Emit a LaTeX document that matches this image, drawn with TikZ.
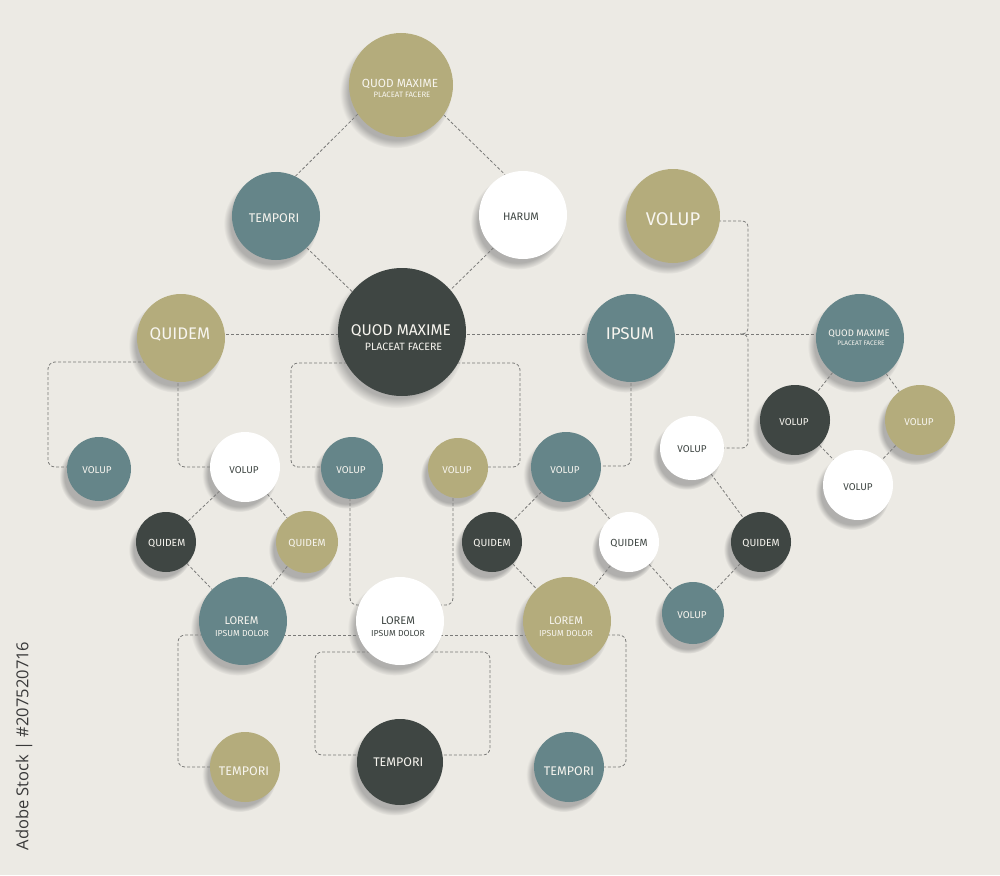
\documentclass[tikz,border=0pt]{standalone}
\usepackage{fontspec}
\setmainfont{Fira Sans}
\newfontfamily\sidefont{Open Sans}
\usetikzlibrary{shadows,backgrounds}
\definecolor{bgc}{HTML}{ECEAE4}
\definecolor{olivec}{HTML}{B4AC7C}
\definecolor{tealc}{HTML}{658589}
\definecolor{darkc}{HTML}{3F4643}
\definecolor{lightc}{HTML}{F7F5EF}
\definecolor{linec}{HTML}{7A7A78}
\definecolor{sidec}{HTML}{3A3A3A}
\begin{document}
\begin{tikzpicture}[x=1pt,y=-1pt,
  bub/.style={circle, inner sep=0pt, minimum size=#1,
    circular drop shadow={shadow xshift=-5pt, shadow yshift=-7pt, shadow scale=1.07, opacity=0.55}},
  olv/.style={fill=olivec},
  tel/.style={fill=tealc},
  drk/.style={fill=darkc},
  wht/.style={fill=white},
  tx/.style={inner sep=0pt, text height=#1*0.69pt, text depth=0pt, font=\fontsize{#1}{#1}\selectfont},
  lt/.style={tx=#1, text=lightc},
  dt/.style={tx=#1, text=darkc},
  conn/.style={draw=linec, line width=0.8pt, dash pattern=on 3pt off 2pt},
  rc/.style={rounded corners=7pt},
]
\useasboundingbox (0,0) rectangle (1000,875);

% ---- circles ----
\node[bub=104, olv] (tQM) at (401,85) {};
\node[bub=88, tel] (tTemp) at (276,216) {};
\node[bub=88, wht] (harum) at (523,215) {};
\node[bub=128, drk] (cQM) at (402,332) {};
\node[bub=88, olv] (quidemL) at (181,338) {};
\node[bub=94, olv] (volupTR) at (673,216) {};
\node[bub=88, tel] (ipsum) at (631,338) {};
\node[bub=88, tel] (rQM) at (860,338) {};
\node[bub=70, drk] (rV1) at (795,420) {};
\node[bub=70, olv] (rV2) at (920,420) {};
\node[bub=70, wht] (rV3) at (858,485) {};
\node[bub=64, wht] (vW2) at (692,448) {};
\node[bub=64, tel] (v1) at (99,469) {};
\node[bub=70, wht] (v2) at (245,467) {};
\node[bub=62, tel] (v3) at (352,468) {};
\node[bub=60, olv] (v4) at (458,468) {};
\node[bub=70, tel] (v5) at (566,467) {};
\node[bub=60, drk] (q1) at (166,542) {};
\node[bub=62, olv] (q2) at (307,542) {};
\node[bub=60, drk] (q3) at (492,542) {};
\node[bub=60, wht] (q4) at (629,542) {};
\node[bub=60, drk] (q5) at (761,542) {};
\node[bub=62, tel] (v6) at (693,613) {};
\node[bub=88, tel] (L1) at (243,621) {};
\node[bub=88, wht] (L2) at (400,621) {};
\node[bub=88, olv] (L3) at (567,621) {};
\node[bub=70, olv] (T1) at (245,767) {};
\node[bub=86, drk] (T2) at (400,762) {};
\node[bub=70, tel] (T3) at (569,767) {};

% ---- texts ----
\node[lt=11.8] (tQMa) at (400,83) {QUOD MAXIME};
\node[lt=7.8] (tQMb) at (402,95) {PLACEAT FACERE};
\node[lt=12.6] (tTempa) at (274,218) {TEMPORI};
\node[dt=10.9] (haruma) at (521,217) {HARUM};
\node[lt=15.5] (cQMa) at (401,330.5) {QUOD MAXIME};
\node[lt=10.6] (cQMb) at (403.5,346.5) {PLACEAT FACERE};
\node[lt=16.8] (quidemLa) at (180,334) {QUIDEM};
\node[lt=18.4] (volupTRa) at (673,219) {VOLUP};
\node[lt=17] (ipsuma) at (630,334) {IPSUM};
\node[lt=9.5] (rQMa) at (859,333.3) {QUOD MAXIME};
\node[lt=6.5] (rQMb) at (861,343.2) {PLACEAT FACERE};
\node[lt=9.9] (rV1a) at (794,422.5) {VOLUP};
\node[lt=9.9] (rV2a) at (919,422.5) {VOLUP};
\node[dt=9.9] (rV3a) at (858,487.5) {VOLUP};
\node[dt=9.9] (vW2a) at (692,449) {VOLUP};
\node[lt=9.9] (v1a) at (97,469.7) {VOLUP};
\node[dt=9.9] (v2a) at (244,469.7) {VOLUP};
\node[lt=9.9] (v3a) at (351,469.7) {VOLUP};
\node[lt=9.9] (v4a) at (457,469.7) {VOLUP};
\node[lt=9.9] (v5a) at (565,469.7) {VOLUP};
\node[lt=10.3] (q1a) at (166.7,543) {QUIDEM};
\node[lt=10.3] (q2a) at (307,543) {QUIDEM};
\node[lt=10.3] (q3a) at (492,543) {QUIDEM};
\node[dt=10.3] (q4a) at (629,543) {QUIDEM};
\node[lt=10.3] (q5a) at (761,543) {QUIDEM};
\node[lt=9.9] (v6a) at (692,615) {VOLUP};
\node[lt=11.1] (L1a) at (241.5,620.5) {LOREM};
\node[lt=8.7] (L1b) at (242,633.7) {IPSUM DOLOR};
\node[dt=11.1] (L2a) at (398,620.5) {LOREM};
\node[dt=8.7] (L2b) at (398,633.7) {IPSUM DOLOR};
\node[lt=11.1] (L3a) at (566,620.5) {LOREM};
\node[lt=8.7] (L3b) at (566,633.7) {IPSUM DOLOR};
\node[lt=12.5] (T1a) at (244,771.3) {TEMPORI};
\node[lt=12.5] (T2a) at (398.3,762) {TEMPORI};
\node[lt=12.5] (T3a) at (569,771.3) {TEMPORI};

\node[rotate=90, text=sidec, font=\sidefont\fontsize{16.5}{18}\selectfont] (side) at (24,746) {Adobe Stock | \#207520716};

% ---- connectors ----
\begin{scope}[on background layer]
\fill[bgc] (0,0) rectangle (1000,875);
\coordinate (yMain) at (0,334);
\coordinate (brR) at (748,221);
\coordinate (brTip) at (740,334);
\coordinate (brB) at (748,448);
\coordinate (lA) at (48,362);
\coordinate (lB) at (48,467);
\coordinate (lC) at (178,467);
\coordinate (mA) at (291,363);
\coordinate (mB) at (291,467);
\coordinate (mC) at (520,363);
\coordinate (mD) at (520,467);
\coordinate (vA) at (350,605);
\coordinate (vB) at (453,605);
\coordinate (iA) at (631,466);
\coordinate (bA) at (178,635);
\coordinate (bB) at (178,767);
\coordinate (bC) at (626,635);
\coordinate (bD) at (626,767);
\coordinate (cA) at (315,652);
\coordinate (cB) at (315,755);
\coordinate (cC) at (490,652);
\coordinate (cD) at (490,755);

\draw[conn] (tQM.214) -- (tTemp.64);
\draw[conn] (tQM.325) -- (harum.114);
\draw[conn] (tTemp.314) -- (cQM.141);
\draw[conn] (harum.228) -- (cQM.41);

\draw[conn] (quidemL |- yMain) -- (cQM |- yMain);
\draw[conn] (cQM |- yMain) -- (ipsum |- yMain);
\draw[conn] (ipsum |- yMain) -- (rQM |- yMain);
\draw[conn, rounded corners=6pt] (volupTR |- brR) -- (brR) -- (brR |- brTip) -- (brTip);
\draw[conn, rounded corners=6pt] (brTip) -- (brR |- brTip) -- (brB) -- (vW2);

\draw[conn, rc] (quidemL |- lA) -- (lA) -- (lB) -- (v1 |- lB);
\draw[conn, rc] (lC |- quidemL) -- (lC) -- (v2 |- lC);
\draw[conn, rc] (cQM |- mA) -- (mA) -- (mB) -- (v3 |- mB);
\draw[conn, rc] (cQM |- mC) -- (mC) -- (mD) -- (v4 |- mD);
\draw[conn, rc] (vA |- v3) -- (vA) -- (L2 |- vA);
\draw[conn, rc] (vB |- v4) -- (vB) -- (L2 |- vB);
\draw[conn, rc] (iA |- ipsum) -- (iA) -- (v5 |- iA);

\draw[conn, rc] (L1 |- bA) -- (bA) -- (bB) -- (T1 |- bB);
\draw[conn] (L1 |- bA) -- (L2 |- bA);
\draw[conn] (L2 |- bA) -- (L3 |- bA);
\draw[conn, rc] (L3 |- bC) -- (bC) -- (bD) -- (T3 |- bD);
\draw[conn, rc] (L2 |- cA) -- (cA) -- (cB) -- (T2 |- cB);
\draw[conn, rc] (L2 |- cC) -- (cC) -- (cD) -- (T2 |- cD);

\draw[conn] (v2) -- (q1);
\draw[conn] (v2) -- (q2);
\draw[conn] (q1) -- (L1);
\draw[conn] (q2) -- (L1);
\draw[conn] (v5) -- (q3);
\draw[conn] (v5) -- (q4);
\draw[conn] (q3) -- (L3);
\draw[conn] (q4) -- (L3);
\draw[conn] (q4) -- (v6);
\draw[conn] (vW2) -- (q5);
\draw[conn] (q5) -- (v6);
\draw[conn] (rQM) -- (rV1);
\draw[conn] (rQM) -- (rV2);
\draw[conn] (rV1) -- (rV3);
\draw[conn] (rV2) -- (rV3);
\end{scope}
\end{tikzpicture}
\end{document}
